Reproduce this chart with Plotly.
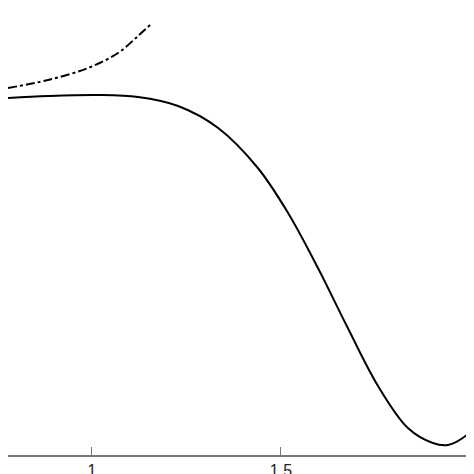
import plotly.graph_objects as go

# solid curve
x_solid = [0.778, 0.884, 1.016, 1.122, 1.228, 1.334, 1.439, 1.519, 1.598, 1.677, 1.757, 1.836, 1.902, 1.942, 1.981, 2.032]
y_solid = [357, 359, 360, 358, 349, 327, 287, 242, 187, 127, 69, 27, 12, 10, 17, 35]

# dash-dot curve
x_dash = [0.778, 0.884, 0.990, 1.069, 1.122, 1.154]
y_dash = [367, 375, 387, 402, 419, 430]

fig = go.Figure()
fig.add_trace(go.Scatter(x=x_solid, y=y_solid, mode='lines',
                         line=dict(color='black', width=2, shape='spline')))
fig.add_trace(go.Scatter(x=x_dash, y=y_dash, mode='lines',
                         line=dict(color='black', width=2, shape='spline', dash='dashdot')))

fig.update_layout(
    width=474, height=474, showlegend=False,
    margin=dict(l=0, r=0, t=0, b=27, pad=0),
    plot_bgcolor='white', paper_bgcolor='white',
    font=dict(family='Liberation Sans', size=16, color='#222'),
)
fig.update_xaxes(range=[0.778, 2.032], tickvals=[1, 1.5, 2], ticktext=['1', '1.5', '2'],
                 showgrid=False, zeroline=False, showline=True, linecolor='#777', linewidth=2,
                 ticks='inside', ticklen=8, tickcolor='#777', automargin=False,
                 ticklabelstandoff=0)
fig.update_yaxes(range=[0, 447], showgrid=False, zeroline=False, showticklabels=False)

fig.write_html("out.html")
